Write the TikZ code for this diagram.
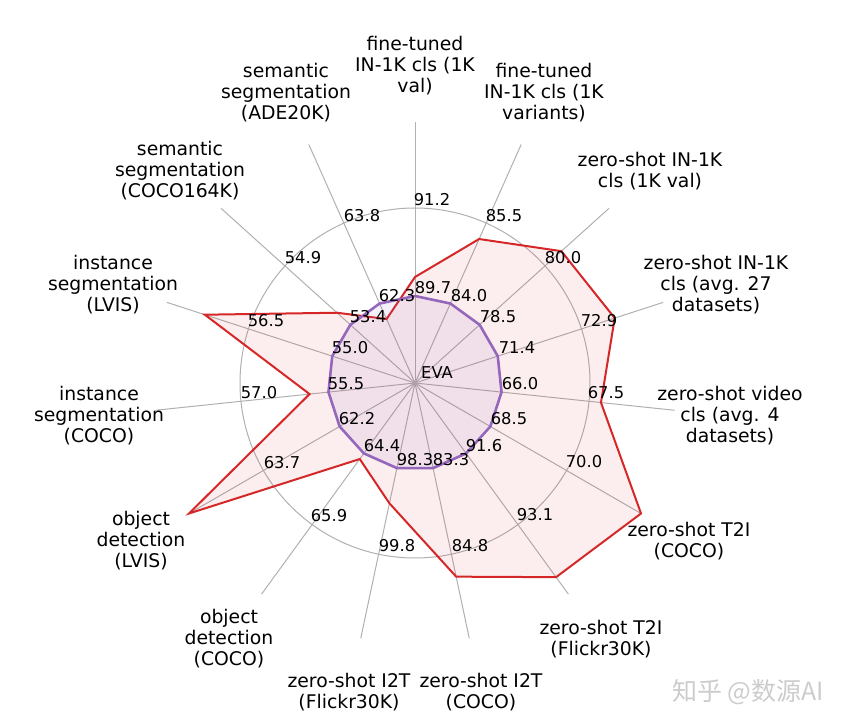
\documentclass[tikz,border=0pt]{standalone}
\usepackage{fontspec}
\setmainfont{DejaVu Sans}
\newfontfamily\cjkwm{Noto Sans CJK SC}
\definecolor{redline}{HTML}{D62728}
\definecolor{purpleline}{HTML}{9467BD}
\definecolor{gridc}{HTML}{B0B0B0}
\tikzset{
  axisline/.style={draw=gridc,line width=1pt},
  ring/.style={circle,draw=gridc,line width=1pt,inner sep=0pt,minimum size=350pt},
  redpoly/.style={draw=redline,line width=2pt,fill=redline,fill opacity=0.08,line join=miter},
  purplepoly/.style={draw=purpleline,line width=2.6pt,fill=purpleline,fill opacity=0.1,line join=round},
  axlabel/.style={align=center,inner sep=0pt,font=\fontsize{18.8}{21}\selectfont},
  vallabel/.style={inner sep=0pt,yshift=-0.8pt,font=\fontsize{16.3}{18}\selectfont},
  wmark/.style={inner sep=0pt,text=gray!40,font=\cjkwm\fontsize{25}{27}\selectfont}
}
\begin{document}
\begin{tikzpicture}[x=1pt,y=-1pt]
\useasboundingbox (0,0) rectangle (847,727);
\coordinate (c) at (415,383);
\foreach \i/\ra/\rb in {0/106/87,1/157.6/87,2/197/87,3/210/87,4/187/87,5/261/87,6/240/87,7/198/87,8/123/87,9/94/87,10/261/87,11/106/87,12/221/87,13/105/87,14/70/87}{
  \pgfmathsetmacro{\ang}{24*\i}
  \coordinate (a\i) at ({415+261*sin(\ang)},{383-261*cos(\ang)});
  \coordinate (r\i) at ({415+\ra*sin(\ang)},{383-\ra*cos(\ang)});
  \coordinate (p\i) at ({415+\rb*sin(\ang)},{383-\rb*cos(\ang)});
}
\node[ring] (ringnode) at (c) {};
\foreach \i in {0,...,14}{ \draw[axisline] (c) -- (a\i); }
\draw[redpoly] (r0)--(r1)--(r2)--(r3)--(r4)--(r5)--(r6)--(r7)--(r8)--(r9)--(r10)--(r11)--(r12)--(r13)--(r14)--cycle;
\draw[purplepoly] (p0)--(p1)--(p2)--(p3)--(p4)--(p5)--(p6)--(p7)--(p8)--(p9)--(p10)--(p11)--(p12)--(p13)--(p14)--cycle;
% axis labels
\node[axlabel] (l0) at (415,66) {fine-tuned\\IN-1K cls (1K\\val)};
\node[axlabel] (l1) at (544,93) {fine-tuned\\IN-1K cls (1K\\variants)};
\node[axlabel] (l2) at (650,171) {zero-shot IN-1K\\cls (1K val)};
\node[axlabel] (l3) at (716,285) {zero-shot IN-1K\\cls (avg. 27\\datasets)};
\node[axlabel] (l4) at (730,416) {zero-shot video\\cls (avg. 4\\datasets)};
\node[axlabel] (l5) at (689,541) {zero-shot T2I\\(COCO)};
\node[axlabel] (l6) at (601,639) {zero-shot T2I\\(Flickr30K)};
\node[axlabel] (l7) at (481,692) {zero-shot I2T\\(COCO)};
\node[axlabel] (l8) at (349,692) {zero-shot I2T\\(Flickr30K)};
\node[axlabel] (l9) at (229,639) {object\\detection\\(COCO)};
\node[axlabel] (l10) at (141,541) {object\\detection\\(LVIS)};
\node[axlabel] (l11) at (99,416) {instance\\segmentation\\(COCO)};
\node[axlabel] (l12) at (113,285) {instance\\segmentation\\(LVIS)};
\node[axlabel] (l13) at (180,171) {semantic\\segmentation\\(COCO164K)};
\node[axlabel] (l14) at (286,93) {semantic\\segmentation\\(ADE20K)};
% ring values
\foreach \n/\x/\y/\t in {o0/432/199/91.2,o1/504/215/85.5,o2/563/257/80.0,o3/599/320/72.9,o4/606/392/67.5,o5/584/461/70.0,o6/535/514/93.1,o7/470/545/84.8,o8/397/545/99.8,o9/329/515/65.9,o10/282/462/63.7,o11/259/392/57.0,o12/266/320/56.5,o13/303/257/54.9,o14/362/215/63.8,
 i0/433/287/89.7,i1/469/295/84.0,i2/498/316/78.5,i3/517/347/71.4,i4/520/383/66.0,i5/509/418/68.5,i6/484/445/91.6,i7/451/459/83.3,i8/415/459/98.3,i9/382/445/64.4,i10/357/418/62.2,i11/346/383/55.5,i12/350/347/55.0,i13/368/316/53.4,i14/397/295/62.3}{
  \node[vallabel] (\n) at (\x,\y) {\t};
}
\node[vallabel] (eva) at (437,372) {EVA};
\node[wmark] (wm) at (748,692) {知乎 @数源AI};
\end{tikzpicture}
\end{document}
